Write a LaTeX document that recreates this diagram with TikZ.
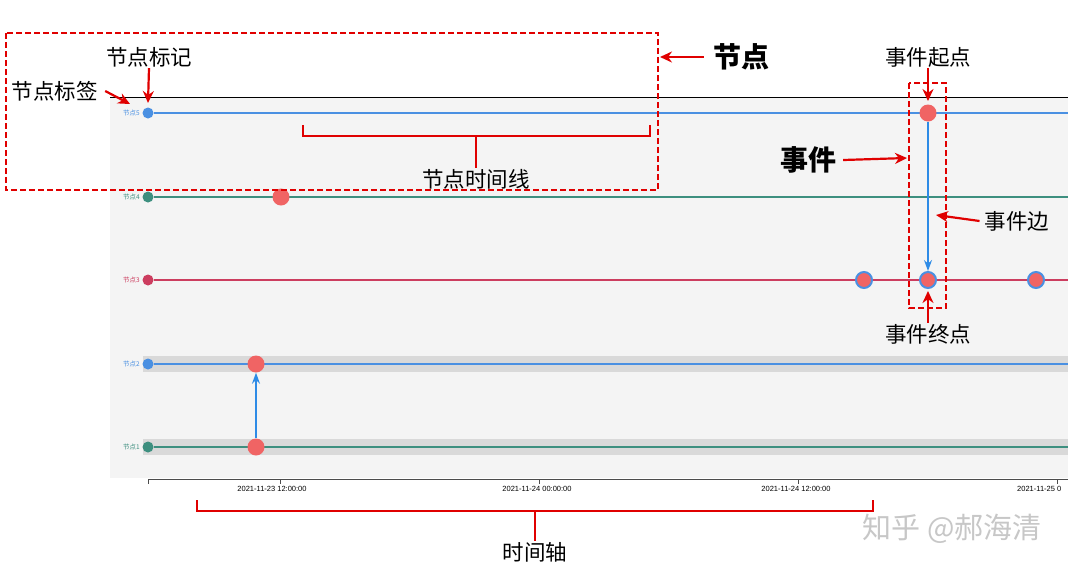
\documentclass[tikz,border=0pt]{standalone}
\usepackage{fontspec}
\setmainfont{Liberation Sans}
\newfontfamily\cjk{Noto Sans CJK SC}
\usetikzlibrary{arrows.meta}
\definecolor{bgpanel}{HTML}{F4F4F4}
\definecolor{cblue}{HTML}{4A90E2}
\definecolor{cteal}{HTML}{3D8F7F}
\definecolor{ccrim}{HTML}{CC3D5F}
\definecolor{cev}{HTML}{F06464}
\definecolor{cband}{HTML}{D9D9D9}
\definecolor{anno}{HTML}{E00000}
\definecolor{edgeb}{HTML}{2E8BE6}
\tikzset{
 lab/.style={font=\cjk\fontsize{21.5}{23}\selectfont, inner sep=1pt},
 big/.style={font=\cjk\bfseries\fontsize{28}{30}\selectfont, inner sep=1pt},
 small/.style={font=\cjk\fontsize{6.5}{7}\selectfont, anchor=east, inner sep=1pt},
 axl/.style={font=\fontsize{7.5}{8}\selectfont, inner sep=1pt},
 ann/.style={anno, line width=2.2pt, -{Stealth[length=12pt,width=11pt]}},
 brace/.style={anno, line width=2.2pt},
 lanemark/.style={circle, inner sep=0pt, minimum size=11pt},
 ev/.style={circle, fill=cev, inner sep=0pt, minimum size=17pt},
 evb/.style={circle, fill=cev, draw=cblue, line width=2pt, inner sep=0pt, minimum size=16pt},
 evedge/.style={edgeb, line width=1.3pt, -{Stealth[length=11pt,width=8pt]}},
}
\begin{document}
\begin{tikzpicture}[x=1pt,y=-1pt]
\useasboundingbox (0,0) rectangle (1080,574);
\fill[white] (0,0) rectangle (1080,574);
\fill[bgpanel] (110,97) rectangle (1068,478);
\draw[black, line width=1pt] (110,97) -- (1068,97);
% bands
\fill[cband] (143,356) rectangle (1068,372);
\fill[cband] (143,439) rectangle (1068,455);
% lanes
\node[lanemark, fill=cblue] (m5) at (148,113) {};
\node[lanemark, fill=cteal] (m4) at (148,197) {};
\node[lanemark, fill=ccrim] (m3) at (148,280) {};
\node[lanemark, fill=cblue] (m2) at (148,364) {};
\node[lanemark, fill=cteal] (m1) at (148,447) {};
\coordinate (e5) at (1068,113);
\coordinate (e4) at (1068,197);
\coordinate (e3) at (1068,280);
\coordinate (e2) at (1068,364);
\coordinate (e1) at (1068,447);
\draw[cblue, line width=1.3pt] (m5) -- (e5);
\draw[cteal, line width=1.3pt] (m4) -- (e4);
\draw[ccrim, line width=1.3pt] (m3) -- (e3);
\draw[cblue, line width=2pt] (m2) -- (e2);
\draw[cteal, line width=2pt] (m1) -- (e1);
\node[small, text=cblue] (l5) at (141,113) {节点5};
\node[small, text=cteal] (l4) at (141,197) {节点4};
\node[small, text=ccrim] (l3) at (141,280) {节点3};
\node[small, text=cblue] (l2) at (141,364) {节点2};
\node[small, text=cteal] (l1) at (141,447) {节点1};
% events
\node[ev] (a4) at (281,197) {};
\node[ev] (a5) at (928,113) {};
\node[evb] (b1) at (864,280) {};
\node[evb] (b2) at (928,280) {};
\node[evb] (b3) at (1036,280) {};
\node[ev] (c2) at (256,364) {};
\node[ev] (c1) at (256,447) {};
\draw[evedge] (c1) -- (c2);
\draw[evedge] (a5) -- (b2);
% axis
\coordinate (ax0) at (148,479);
\coordinate (ax1) at (1068,479);
\draw[black!70, line width=0.8pt] (ax0) -- (ax1);
\foreach \x in {148,280,539,798,1057} \draw[black!70, line width=0.8pt] (\x,479) -- (\x,484);
\node[axl] (t1) at (272,489) {2021-11-23 12:00:00};
\node[axl] (t2) at (537,489) {2021-11-24 00:00:00};
\node[axl] (t3) at (796,489) {2021-11-24 12:00:00};
\node[axl, anchor=west] (t4) at (1016,489) {2021-11-25 0};
% annotations
\draw[anno, line width=2pt, dash pattern=on 6pt off 3pt] (6,33) rectangle (658,190);
\draw[anno, line width=2pt, dash pattern=on 6pt off 3pt] (909,83) rectangle (946,308);
\node[big] (nd) at (741,57) {节点};
\coordinate (ndt) at (660,57);
\draw[ann] (nd.west) ++(-8,0) -- (ndt);
\node[lab] (nbj) at (149,57) {节点标记};
\draw[ann] (nbj.south) -- (148,103);
\node[lab] (nbq) at (55,91) {节点标签};
\draw[ann] (nbq.east) ++(6,0) -- (130,104);
% time line brace
\draw[brace] (303,125) -- (303,136) -- (650,136) -- (650,125);
\coordinate (bt) at (476,136);
\node[lab] (ntl) at (476,179) {节点时间线};
\draw[brace] (bt) -- (ntl.north);
% axis brace
\draw[brace] (197,500) -- (197,511) -- (873,511) -- (873,500);
\coordinate (ba) at (535,511);
\node[lab] (sjz) at (535,552) {时间轴};
\draw[brace] (ba) -- (sjz.north);
% event labels
\node[lab] (sqd) at (928,57) {事件起点};
\draw[ann] (sqd.south) -- (928,101);
\node[big] (sj) at (808,160) {事件};
\draw[ann] (sj.east) ++(6,0) -- (907,158);
\node[lab] (sjb) at (1017,221) {事件边};
\draw[ann] (sjb.west) ++(-4,0) -- (936,215);
\node[lab] (szd) at (928,334) {事件终点};
\draw[ann] (szd.north) -- (928,291);
% watermark
\node[font=\cjk\fontsize{29}{31}\selectfont, text=black!22] (wm) at (952,529) {知乎 @郝海清};
\end{tikzpicture}
\end{document}
